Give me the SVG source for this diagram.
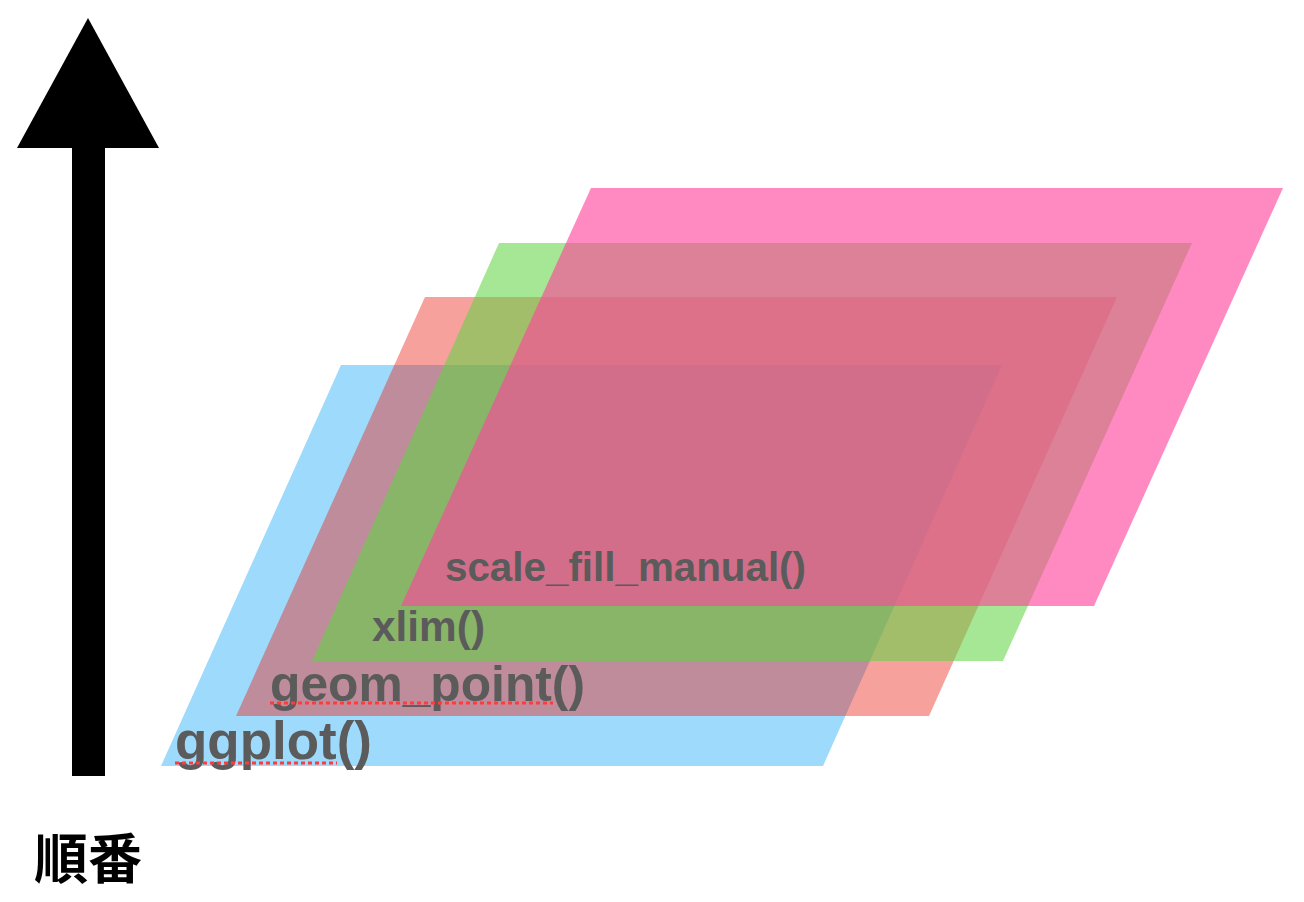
<svg xmlns="http://www.w3.org/2000/svg" width="1304" height="902" viewBox="0 0 1304 902">
<style>
.lbl{font-family:"Liberation Sans",Arial,sans-serif;font-weight:bold;fill:#5b5b5b}
.sq{stroke:#ff3b3b;stroke-width:3;stroke-dasharray:4 3;fill:none}
</style>
<rect width="1304" height="902" fill="#ffffff"/>
<g id="arrow">
<rect x="72" y="146" width="33" height="630" fill="#000"/>
<polygon points="88,18 159,148 17,148" fill="#000"/>
</g>
<g id="layer-ggplot"><polygon points="341,365 1002,365 823,766 161,766" fill="#9ddafb"/></g>
<g id="layer-geom_point"><polygon points="425,297 1117,297 929,716 236,716" fill="rgb(237,37,28)" fill-opacity="0.43"/></g>
<g id="layer-xlim"><polygon points="499,243 1192,243 1003,661 312,661" fill="rgb(96,212,67)" fill-opacity="0.57"/></g>
<g id="layer-scale"><polygon points="591,188 1283,188 1094,606 401,606" fill="rgb(255,66,156)" fill-opacity="0.62"/></g>
<g id="labels">
<text class="lbl" x="445" y="581" font-size="40" textLength="361" lengthAdjust="spacingAndGlyphs">scale_fill_manual()</text>
<text class="lbl" x="372" y="641" font-size="42" textLength="113" lengthAdjust="spacingAndGlyphs">xlim()</text>
<text class="lbl" x="270" y="701" font-size="50" textLength="315" lengthAdjust="spacingAndGlyphs">geom_point()</text>
<text class="lbl" x="175" y="759" font-size="53" textLength="197" lengthAdjust="spacingAndGlyphs">ggplot()</text>
<line class="sq" x1="270" y1="703" x2="553" y2="703"/>
<line class="sq" x1="175" y1="763" x2="337" y2="763"/>
</g>
<g id="order-label">
<text x="34" y="879" font-family="'Noto Sans CJK JP',sans-serif" font-weight="bold" font-size="54" fill="#000">順番</text>
</g>
</svg>
